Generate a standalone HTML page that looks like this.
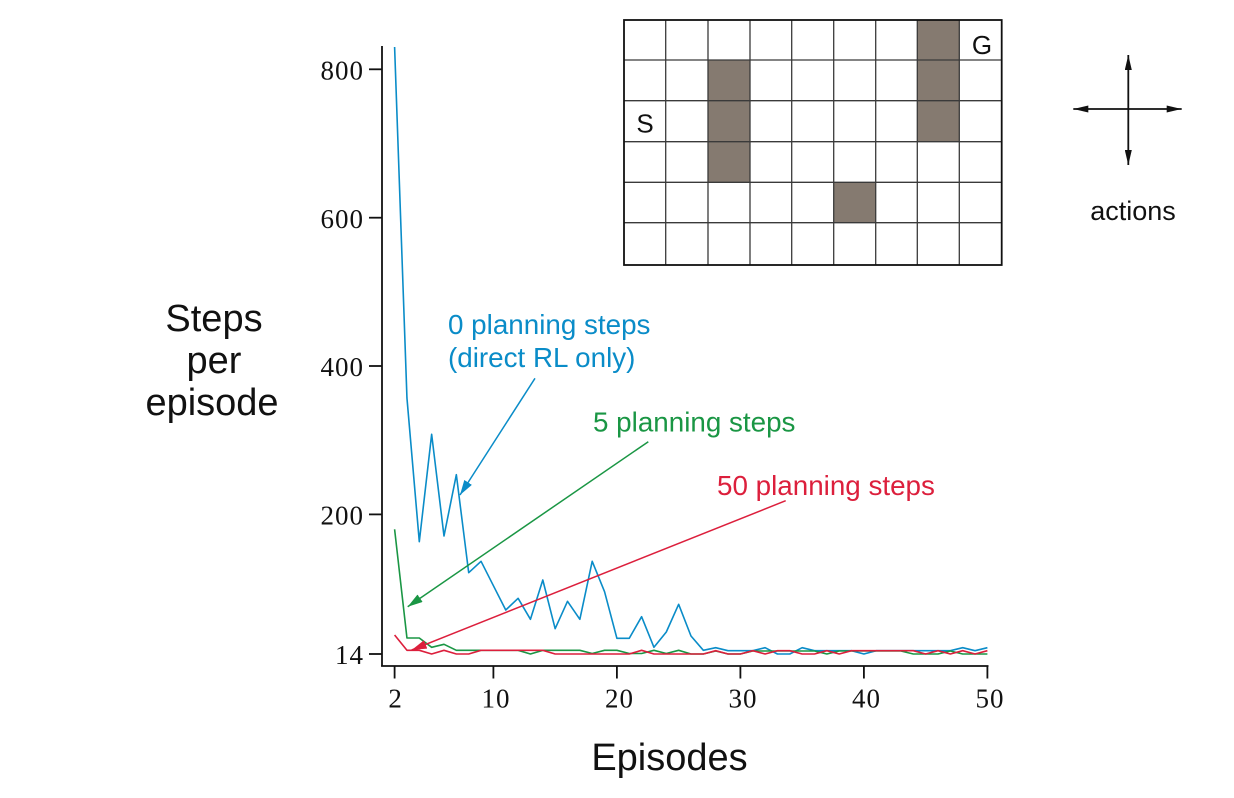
<!DOCTYPE html>
<html>
<head>
<meta charset="utf-8">
<style>
html,body{margin:0;padding:0;background:#fff;}
svg{display:block;}
.tk{font-family:"Liberation Serif",serif;font-size:27px;letter-spacing:1px;fill:#111;}
.sans{font-family:"Liberation Sans",sans-serif;}
</style>
</head>
<body>
<svg width="1234" height="798" viewBox="0 0 1234 798" xmlns="http://www.w3.org/2000/svg">
<defs>
<marker id="ab" viewBox="0 0 10 10" refX="10" refY="5" markerWidth="15" markerHeight="9" markerUnits="userSpaceOnUse" orient="auto" preserveAspectRatio="none"><path d="M0,0 L10,5 L0,10 z" fill="#0a8cc8"/></marker>
<marker id="ag" viewBox="0 0 10 10" refX="10" refY="5" markerWidth="15" markerHeight="9" markerUnits="userSpaceOnUse" orient="auto" preserveAspectRatio="none"><path d="M0,0 L10,5 L0,10 z" fill="#1a9644"/></marker>
<marker id="ar" viewBox="0 0 10 10" refX="10" refY="5" markerWidth="15" markerHeight="9" markerUnits="userSpaceOnUse" orient="auto" preserveAspectRatio="none"><path d="M0,0 L10,5 L0,10 z" fill="#dc1f3c"/></marker>
<marker id="ak" viewBox="0 0 10 10" refX="10" refY="5" markerWidth="15" markerHeight="7" markerUnits="userSpaceOnUse" orient="auto" preserveAspectRatio="none"><path d="M0,0 L10,5 L0,10 z" fill="#111"/></marker>
</defs>

<!-- Axes -->
<g stroke="#111" stroke-width="1.8" fill="none">
<line x1="382" y1="46" x2="382" y2="666.5"/>
<line x1="381.1" y1="666" x2="988.5" y2="666"/>
<line x1="369" y1="69.3" x2="382" y2="69.3"/>
<line x1="369" y1="217.7" x2="382" y2="217.7"/>
<line x1="369" y1="366" x2="382" y2="366"/>
<line x1="369" y1="514.4" x2="382" y2="514.4"/>
<line x1="369" y1="654" x2="382" y2="654"/>
<line x1="394.6" y1="666" x2="394.6" y2="678.5"/>
<line x1="493.4" y1="666" x2="493.4" y2="678.5"/>
<line x1="616.9" y1="666" x2="616.9" y2="678.5"/>
<line x1="740.4" y1="666" x2="740.4" y2="678.5"/>
<line x1="863.9" y1="666" x2="863.9" y2="678.5"/>
<line x1="987.4" y1="666" x2="987.4" y2="678.5"/>
</g>

<!-- Tick labels -->
<g class="tk" text-anchor="end">
<text x="364" y="79.5">800</text>
<text x="364" y="227.9">600</text>
<text x="364" y="376.2">400</text>
<text x="364" y="524.6">200</text>
<text x="364" y="664">14</text>
</g>
<g class="tk" text-anchor="middle">
<text x="395.6" y="707.3">2</text>
<text x="496" y="707.3">10</text>
<text x="619.5" y="707.3">20</text>
<text x="743" y="707.3">30</text>
<text x="866.5" y="707.3">40</text>
<text x="990" y="707.3">50</text>
</g>

<!-- Axis titles -->
<g class="sans" font-size="38" fill="#111" text-anchor="middle">
<text x="214" y="331">Steps</text>
<text x="214" y="373">per</text>
<text x="212" y="415">episode</text>
<text x="669.5" y="770">Episodes</text>
</g>

<!-- Series -->
<polyline fill="none" stroke="#0a8cc8" stroke-width="1.6" stroke-linejoin="round" points="
394.6,47 406.95,398 419.3,541.7 431.65,434.3 444,536 456.35,474.7 468.7,572.7 481.05,561.3 493.4,585.7 505.75,610 518.1,598.3 530.45,619.3 542.8,580 555.15,628.7 567.5,601.3 579.85,619.3 592.2,561.3 604.55,591.7 616.9,638.3 629.25,638.3 641.6,616.7 653.95,647.3 666.3,632 678.65,604.3 691,636 703.35,650.3 715.7,647.7 728.05,650.7 740.4,650.7 752.75,650.7 765.1,647.7 777.45,654 789.8,654 802.15,647.7 814.5,650.7 826.85,650.7 839.2,650.7 851.55,650.7 863.9,654 876.25,650.7 888.6,650.7 900.95,650.7 913.3,650.7 925.65,650.7 938,650.7 950.35,650.7 962.7,647.7 975.05,650.7 987.4,647.7"/>
<polyline fill="none" stroke="#1a9644" stroke-width="1.6" stroke-linejoin="round" points="
394.6,529.3 406.95,638 419.3,638 431.65,647.3 444,644.3 456.35,650.3 468.7,650.3 481.05,650.3 493.4,650.3 505.75,650.3 518.1,650.3 530.45,654 542.8,650.3 555.15,650.3 567.5,650.3 579.85,650.3 592.2,653.5 604.55,650.3 616.9,650.3 629.25,653.5 641.6,653.5 653.95,650.3 666.3,653.5 678.65,650.3 691,654 703.35,654 715.7,651 728.05,654 740.4,654 752.75,651 765.1,651 777.45,651 789.8,651 802.15,651 814.5,651 826.85,654 839.2,651 851.55,651 863.9,651 876.25,651 888.6,651 900.95,651 913.3,654 925.65,654 938,654 950.35,651 962.7,654 975.05,654 987.4,654"/>
<polyline fill="none" stroke="#dc1f3c" stroke-width="1.6" stroke-linejoin="round" points="
394.6,635 406.95,650.3 419.3,650.3 431.65,654 444,650.3 456.35,654 468.7,654 481.05,650.3 493.4,650.3 505.75,650.3 518.1,650.3 530.45,650.3 542.8,650.3 555.15,654 567.5,654 579.85,654 592.2,654 604.55,654 616.9,654 629.25,654 641.6,650.3 653.95,654 666.3,654 678.65,654 691,654 703.35,654 715.7,650.7 728.05,654 740.4,654 752.75,650.7 765.1,654 777.45,650.7 789.8,650.7 802.15,654 814.5,654 826.85,650.7 839.2,654 851.55,650.7 863.9,650.7 876.25,650.7 888.6,650.7 900.95,650.7 913.3,650.7 925.65,654 938,650.7 950.35,654 962.7,650.7 975.05,654 987.4,650.7"/>

<!-- Annotation arrows -->
<line x1="535" y1="378.3" x2="460" y2="495" stroke="#0a8cc8" stroke-width="1.5" marker-end="url(#ab)"/>
<line x1="648.3" y1="441.7" x2="407.7" y2="606.7" stroke="#1a9644" stroke-width="1.5" marker-end="url(#ag)"/>
<line x1="785.7" y1="500.7" x2="411.7" y2="650" stroke="#dc1f3c" stroke-width="1.5" marker-end="url(#ar)"/>

<!-- Annotation text -->
<g class="sans" font-size="27.8">
<text x="448" y="334" fill="#0a8cc8">0 planning steps</text>
<text x="448" y="367" fill="#0a8cc8">(direct RL only)</text>
<text x="593" y="431.7" fill="#1a9644">5 planning steps</text>
<text x="717" y="495" fill="#dc1f3c">50 planning steps</text>
</g>

<!-- Gridworld -->
<g fill="#857a70">
<rect x="708" y="60" width="42" height="122.3"/>
<rect x="917.3" y="20" width="42" height="121.7"/>
<rect x="833.7" y="182.3" width="42" height="40.4"/>
</g>
<g stroke="#3a3a3a" stroke-width="1.3">
<line x1="665.7" y1="20" x2="665.7" y2="265"/>
<line x1="708" y1="20" x2="708" y2="265"/>
<line x1="750" y1="20" x2="750" y2="265"/>
<line x1="791.7" y1="20" x2="791.7" y2="265"/>
<line x1="833.7" y1="20" x2="833.7" y2="265"/>
<line x1="875.7" y1="20" x2="875.7" y2="265"/>
<line x1="917.3" y1="20" x2="917.3" y2="265"/>
<line x1="959.3" y1="20" x2="959.3" y2="265"/>
<line x1="624" y1="60" x2="1001.7" y2="60"/>
<line x1="624" y1="100.7" x2="1001.7" y2="100.7"/>
<line x1="624" y1="141.7" x2="1001.7" y2="141.7"/>
<line x1="624" y1="182.3" x2="1001.7" y2="182.3"/>
<line x1="624" y1="222.7" x2="1001.7" y2="222.7"/>
</g>
<rect x="624" y="20" width="377.7" height="245" fill="none" stroke="#111" stroke-width="1.8"/>
<g class="sans" font-size="26" fill="#111" text-anchor="middle">
<text x="645" y="132.5">S</text>
<text x="982" y="54">G</text>
</g>

<!-- Actions -->
<g stroke="#111" stroke-width="1.8">
<line x1="1128.3" y1="109" x2="1073.3" y2="109" marker-end="url(#ak)"/>
<line x1="1128.3" y1="109" x2="1181.7" y2="109" marker-end="url(#ak)"/>
<line x1="1128.3" y1="109" x2="1128.3" y2="55" marker-end="url(#ak)"/>
<line x1="1128.3" y1="109" x2="1128.3" y2="165" marker-end="url(#ak)"/>
</g>
<text class="sans" x="1133" y="220" font-size="27" fill="#111" text-anchor="middle">actions</text>
</svg>
</body>
</html>
